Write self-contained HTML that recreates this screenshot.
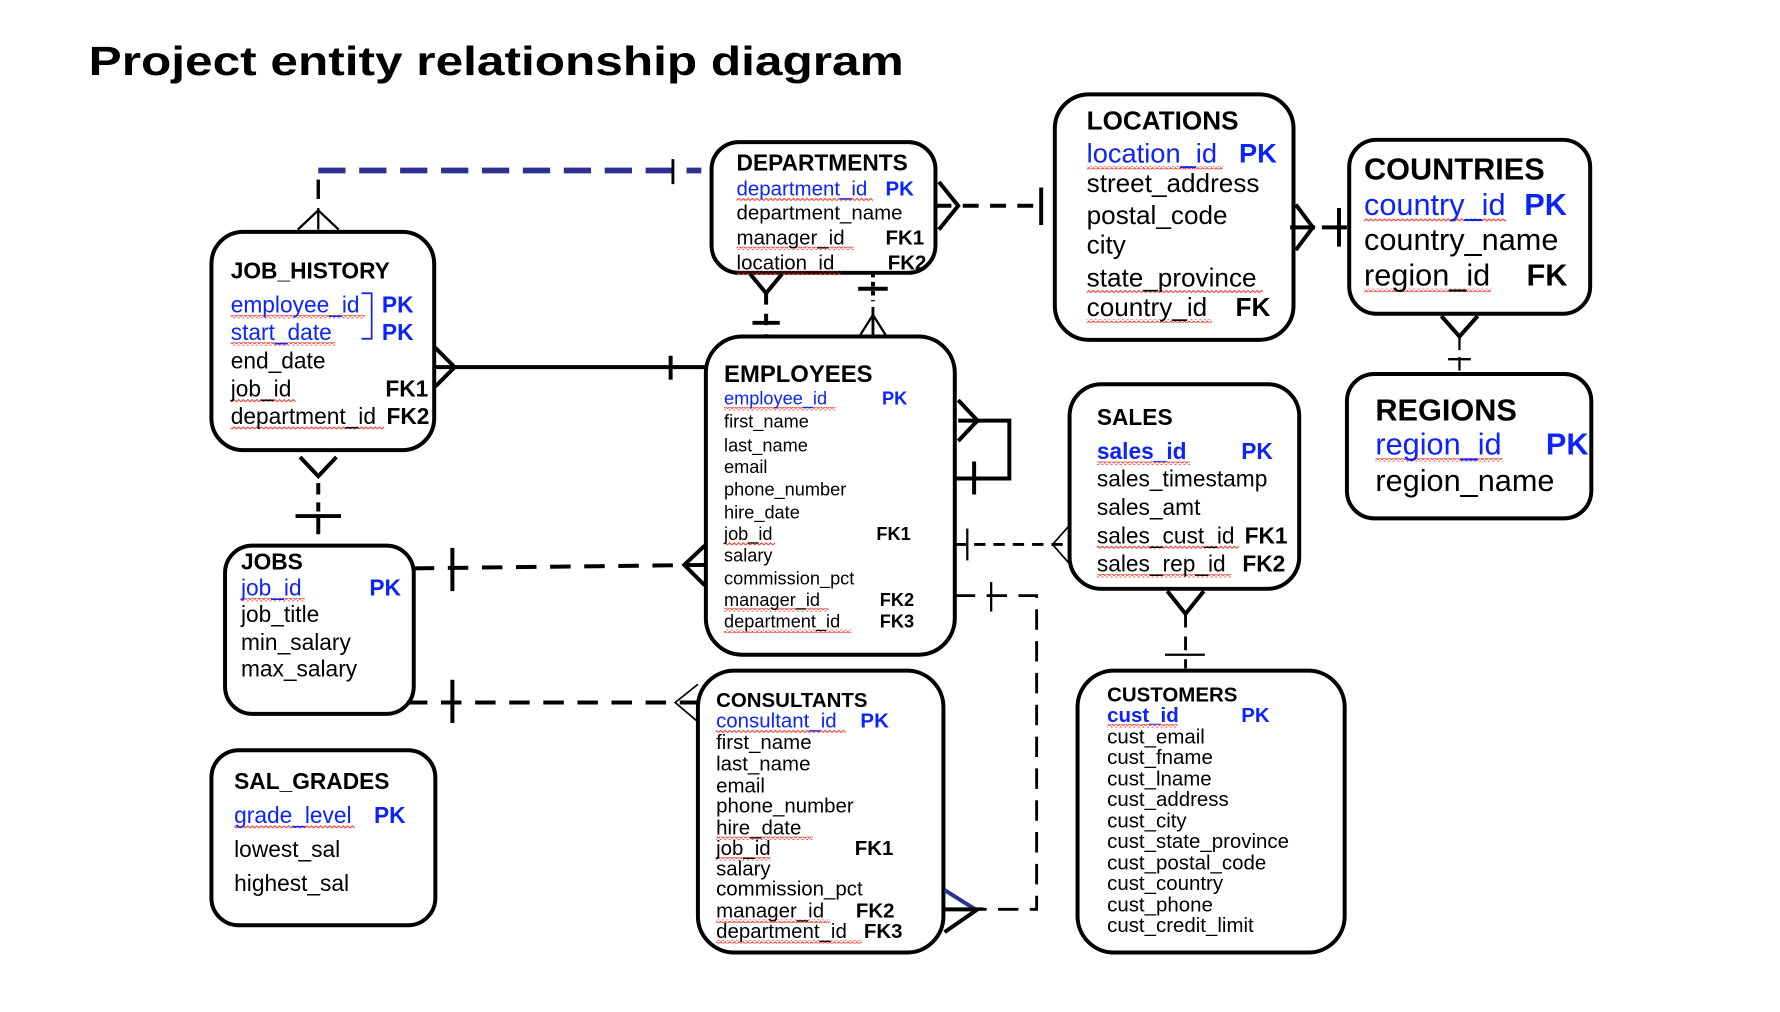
<!DOCTYPE html>
<html><head><meta charset="utf-8"><style>
html,body{margin:0;padding:0;background:#fff;}
svg{display:block;}
text{font-family:"Liberation Sans",Arial,sans-serif;}
.b{font-weight:bold;}
.bl{fill:#0b24fb;}
</style></head><body>
<svg width="1780" height="1012" viewBox="0 0 1566 890.3" preserveAspectRatio="none" xmlns="http://www.w3.org/2000/svg">
<defs>
<pattern id="wv" width="4" height="3" patternUnits="userSpaceOnUse">
<polyline points="0,2.5 2,0.5 4,2.5" fill="none" stroke="#e8352a" stroke-width="0.9"/>
</pattern>
</defs>
<rect width="1566" height="890.3" fill="#fff"/>
<text x="78" y="66" class="b" font-size="36" textLength="717" lengthAdjust="spacingAndGlyphs">Project entity relationship diagram</text>

<g fill="none" stroke="#000" stroke-width="3.5">
<rect x="186" y="204" width="196" height="192" rx="28"/>
<rect x="626" y="125" width="197" height="115" rx="24"/>
<rect x="928" y="83" width="210" height="216" rx="30"/>
<rect x="1187" y="123" width="212" height="153" rx="24"/>
<rect x="1185" y="329" width="215" height="127" rx="24"/>
<rect x="621" y="296" width="219" height="280" rx="32"/>
<rect x="941" y="338" width="202" height="180" rx="28"/>
<rect x="198" y="480" width="166" height="148" rx="24"/>
<rect x="186" y="660" width="197" height="154" rx="24"/>
<rect x="614" y="590" width="216" height="248" rx="32"/>
<rect x="948" y="590" width="235" height="248" rx="32"/>
</g>

<g fill="url(#wv)">
<rect x="203" y="277" width="118" height="3"/><rect x="203" y="301" width="92" height="3"/>
<rect x="203" y="351" width="57" height="3"/><rect x="203" y="375" width="135" height="3"/>
<rect x="648" y="174" width="120" height="3"/><rect x="648" y="217" width="103" height="3"/><rect x="648" y="239" width="92" height="3"/>
<rect x="956" y="146" width="120" height="3"/><rect x="956" y="255" width="155" height="3"/><rect x="956" y="281" width="110" height="3"/>
<rect x="1200" y="192" width="125" height="3"/><rect x="1200" y="254" width="112" height="3"/>
<rect x="1210" y="403" width="112" height="3"/>
<rect x="637" y="358" width="98" height="3"/><rect x="637" y="477" width="45" height="3"/><rect x="637" y="535" width="92" height="3"/><rect x="637" y="554" width="112" height="3"/>
<rect x="965" y="406" width="82" height="3"/><rect x="965" y="480" width="125" height="3"/><rect x="965" y="505" width="118" height="3"/>
<rect x="212" y="526" width="56" height="3"/>
<rect x="206" y="726" width="106" height="3"/>
<rect x="630" y="642" width="114" height="3"/><rect x="630" y="736" width="85" height="3"/><rect x="630" y="754" width="48" height="3"/><rect x="630" y="809" width="100" height="3"/><rect x="630" y="827" width="128" height="3"/>
<rect x="974" y="637" width="62" height="3"/>
</g>

<g font-size="20">
<text x="203" y="245" class="b">JOB_HISTORY</text>
<text x="203" y="275" class="bl">employee_id</text><text x="336" y="275" class="b bl">PK</text>
<text x="203" y="299" class="bl">start_date</text><text x="336" y="299" class="b bl">PK</text>
<text x="203" y="324">end_date</text>
<text x="203" y="349">job_id</text><text x="339" y="349" class="b">FK1</text>
<text x="203" y="373">department_id</text><text x="340" y="373" class="b">FK2</text>
</g>
<polyline points="318,258 327,258 327,298 318,298" fill="none" stroke="#0b24fb" stroke-width="1.5"/>

<g font-size="18">
<text x="648" y="150" class="b" font-size="20">DEPARTMENTS</text>
<text x="648" y="172" class="bl">department_id</text><text x="779" y="172" class="b bl">PK</text>
<text x="648" y="193">department_name</text>
<text x="648" y="215">manager_id</text><text x="779" y="215" class="b">FK1</text>
<text x="648" y="237">location_id</text><text x="781" y="237" class="b">FK2</text>
</g>

<g font-size="23">
<text x="956" y="114" class="b">LOCATIONS</text>
<text x="956" y="143" class="bl" font-size="24">location_id</text><text x="1090" y="143" class="b bl" font-size="24">PK</text>
<text x="956" y="169">street_address</text>
<text x="956" y="197">postal_code</text>
<text x="956" y="223">city</text>
<text x="956" y="252">state_province</text>
<text x="956" y="278">country_id</text><text x="1087" y="278" class="b">FK</text>
</g>

<g font-size="27">
<text x="1200" y="158" class="b">COUNTRIES</text>
<text x="1200" y="189" class="bl">country_id</text><text x="1341" y="189" class="b bl">PK</text>
<text x="1200" y="220">country_name</text>
<text x="1200" y="251">region_id</text><text x="1343" y="251" class="b">FK</text>
</g>

<g font-size="27">
<text x="1210" y="370" class="b">REGIONS</text>
<text x="1210" y="400" class="bl">region_id</text><text x="1360" y="400" class="b bl">PK</text>
<text x="1210" y="432">region_name</text>
</g>

<g font-size="16">
<text x="637" y="336" class="b" font-size="21">EMPLOYEES</text>
<text x="637" y="356" class="bl">employee_id</text><text x="776" y="356" class="b bl">PK</text>
<text x="637" y="376">first_name</text>
<text x="637" y="397">last_name</text>
<text x="637" y="416">email</text>
<text x="637" y="436">phone_number</text>
<text x="637" y="456">hire_date</text>
<text x="637" y="475">job_id</text><text x="771" y="475" class="b">FK1</text>
<text x="637" y="494">salary</text>
<text x="637" y="514">commission_pct</text>
<text x="637" y="533">manager_id</text><text x="774" y="533" class="b">FK2</text>
<text x="637" y="552">department_id</text><text x="774" y="552" class="b">FK3</text>
</g>

<g font-size="20">
<text x="965" y="374" class="b">SALES</text>
<text x="965" y="404" class="b bl">sales_id</text><text x="1092" y="404" class="b bl">PK</text>
<text x="965" y="428">sales_timestamp</text>
<text x="965" y="453">sales_amt</text>
<text x="965" y="478">sales_cust_id</text><text x="1095" y="478" class="b">FK1</text>
<text x="965" y="503">sales_rep_id</text><text x="1093" y="503" class="b">FK2</text>
</g>

<g font-size="20">
<text x="212" y="501" class="b">JOBS</text>
<text x="212" y="524" class="bl">job_id</text><text x="325" y="524" class="b bl">PK</text>
<text x="212" y="547">job_title</text>
<text x="212" y="572">min_salary</text>
<text x="212" y="595">max_salary</text>
</g>

<g font-size="20">
<text x="206" y="694" class="b">SAL_GRADES</text>
<text x="206" y="724" class="bl">grade_level</text><text x="329" y="724" class="b bl">PK</text>
<text x="206" y="754">lowest_sal</text>
<text x="206" y="784">highest_sal</text>
</g>

<g font-size="18">
<text x="630" y="622" class="b">CONSULTANTS</text>
<text x="630" y="640" class="bl">consultant_id</text><text x="757" y="640" class="b bl">PK</text>
<text x="630" y="659">first_name</text>
<text x="630" y="678">last_name</text>
<text x="630" y="697">email</text>
<text x="630" y="715">phone_number</text>
<text x="630" y="734">hire_date</text>
<text x="630" y="752">job_id</text><text x="752" y="752" class="b">FK1</text>
<text x="630" y="770">salary</text>
<text x="630" y="788">commission_pct</text>
<text x="630" y="807">manager_id</text><text x="753" y="807" class="b">FK2</text>
<text x="630" y="825">department_id</text><text x="760" y="825" class="b">FK3</text>
</g>

<g font-size="18">
<text x="974" y="617" class="b">CUSTOMERS</text>
<text x="974" y="635" class="b bl">cust_id</text><text x="1092" y="635" class="b bl">PK</text>
<text x="974" y="654">cust_email</text>
<text x="974" y="672">cust_fname</text>
<text x="974" y="691">cust_lname</text>
<text x="974" y="709">cust_address</text>
<text x="974" y="728">cust_city</text>
<text x="974" y="746">cust_state_province</text>
<text x="974" y="765">cust_postal_code</text>
<text x="974" y="783">cust_country</text>
<text x="974" y="802">cust_phone</text>
<text x="974" y="820">cust_credit_limit</text>
</g>

<g fill="none" stroke="#000" stroke-width="3.5">
<line x1="280" y1="150" x2="617" y2="150" stroke="#2e3192" stroke-width="5" stroke-dasharray="24,12"/>
<line x1="592" y1="140" x2="592" y2="162" stroke-width="2.5"/>
<line x1="280" y1="158" x2="280" y2="175" stroke-width="3"/>
<line x1="280" y1="183" x2="280" y2="202" stroke-width="2"/>
<polyline points="262,202 280,185 298,202" stroke-width="2"/>
<polyline points="826,160 843,181 826,202"/>
<line x1="823" y1="181" x2="916" y2="181" stroke-dasharray="14,10"/>
<line x1="916" y1="165" x2="916" y2="198"/>
<polyline points="1140,180 1155,200 1140,220"/>
<line x1="1135" y1="200" x2="1187" y2="200" stroke-dasharray="22,6"/>
<line x1="1178" y1="183" x2="1178" y2="217"/>
<polyline points="1268,278 1284,296 1300,278"/>
<line x1="1284" y1="296" x2="1284" y2="329" stroke-width="2" stroke-dasharray="12,6"/>
<line x1="1274" y1="316" x2="1294" y2="316" stroke-width="2"/>
<polyline points="660,241 674,258 688,241"/>
<line x1="674" y1="258" x2="674" y2="296" stroke-dasharray="10,8"/>
<line x1="662" y1="284" x2="686" y2="284"/>
<line x1="768" y1="240" x2="768" y2="265" stroke-dasharray="4,4"/>
<line x1="755" y1="254" x2="781" y2="254"/>
<line x1="768" y1="270" x2="768" y2="296" stroke-width="2.5"/>
<polyline points="756,296 768,277 780,296" stroke-width="2"/>
<line x1="383" y1="323" x2="621" y2="323"/>
<polyline points="383,306 400,323 383,340"/>
<line x1="590" y1="313" x2="590" y2="334"/>
<polyline points="843,352 860,370 843,388"/>
<polyline points="843,370 888,370 888,421 840,421"/>
<line x1="857" y1="406" x2="857" y2="435"/>
<polyline points="264,402 280,419 296,402"/>
<line x1="280" y1="425" x2="280" y2="450" stroke-dasharray="10,7"/>
<line x1="260" y1="454" x2="300" y2="454"/>
<line x1="280" y1="454" x2="280" y2="470"/>
<line x1="364" y1="500" x2="620" y2="497" stroke-dasharray="18,12"/>
<line x1="398" y1="482" x2="398" y2="520"/>
<polyline points="620,480 602,497 620,515"/>
<line x1="358" y1="618" x2="614" y2="618" stroke-dasharray="18,12"/>
<line x1="398" y1="598" x2="398" y2="636"/>
<polyline points="614,602 594,618 614,635" stroke-width="1.5"/>
<line x1="840" y1="479" x2="941" y2="479" stroke-width="2.5" stroke-dasharray="10,7"/>
<line x1="851" y1="465" x2="851" y2="493" stroke-width="2"/>
<polyline points="941,462 926,479 941,496" stroke-width="1.5"/>
<polyline points="840,524 912,524 912,800 860,800" stroke-width="2.5" stroke-dasharray="18,10"/>
<line x1="872" y1="512" x2="872" y2="538" stroke-width="2"/>
<line x1="831" y1="783" x2="858" y2="800" stroke="#2e3192" stroke-width="3.5"/>
<polyline points="831,800 860,800 831,820"/>
<polyline points="1027,520 1043,540 1059,520"/>
<line x1="1043" y1="540" x2="1043" y2="588" stroke-width="2.5" stroke-dasharray="12,8"/>
<line x1="1025" y1="576" x2="1060" y2="576" stroke-width="2"/>
</g>
</svg>
</body></html>
